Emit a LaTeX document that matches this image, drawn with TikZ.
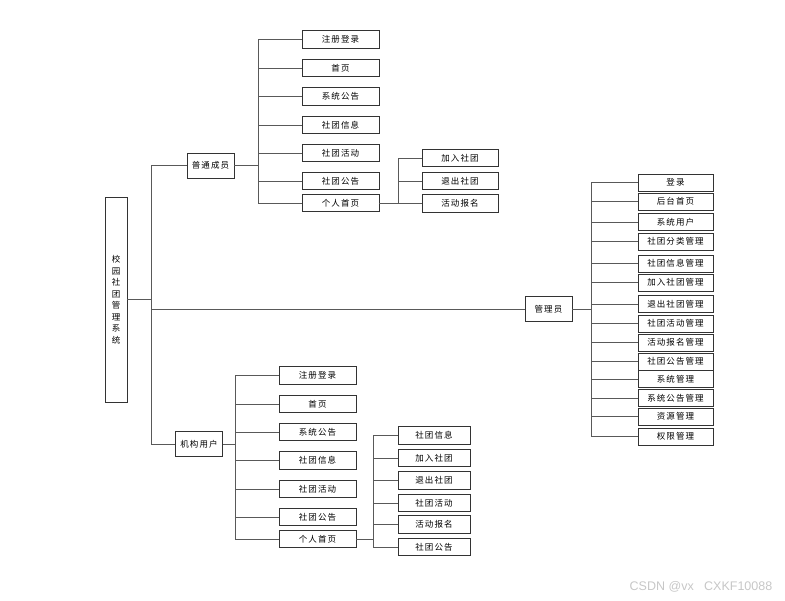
\documentclass[tikz,border=0pt]{standalone}
\usepackage{fontspec}
\setmainfont{Noto Sans CJK SC}[LetterSpace=12]
\newfontfamily\wmfont{Liberation Sans}
\begin{document}
\begin{tikzpicture}[x=1pt,y=-1pt,
  box/.style={draw=black!80,line width=0.8pt,fill=white,inner sep=0pt,font=\fontsize{8.5}{10}\selectfont},
  leaf/.style={box,minimum width=77pt,minimum height=17.5pt},
  aleaf/.style={box,minimum width=75pt,minimum height=17pt},
  sub/.style={box,minimum width=76pt,minimum height=17.5pt},
  grp/.style={box,minimum width=47pt,minimum height=25pt},
  conn/.style={draw=black!65,line width=0.8pt}]
\useasboundingbox (0,0) rectangle (785,601);
% root
\node[box,minimum width=22pt,minimum height=205pt,align=center,font=\fontsize{8.5}{11.5}\selectfont] (root) at (116,299.5) {校\\园\\社\\团\\管\\理\\系\\统};
% groups
\node[grp] (pa) at (210.5,165.5) {普通成员};
\node[grp] (pm) at (548.5,309) {管理员};
\node[grp] (pb) at (199,444) {机构用户};
\foreach \g in {pa,pm,pb} \draw[conn] (root.east) -- ++(24,0) |- (\g.west);
% group A
\node[leaf] (a1) at (340.5,39.5) {注册登录};
\node[leaf] (a2) at (340.5,68) {首页};
\node[leaf] (a3) at (340.5,96.5) {系统公告};
\node[leaf] (a4) at (340.5,125) {社团信息};
\node[leaf] (a5) at (340.5,153) {社团活动};
\node[leaf] (a6) at (340.5,181) {社团公告};
\node[leaf] (a7) at (340.5,203) {个人首页};
\foreach \c in {a1,a2,a3,a4,a5,a6,a7} \draw[conn] (pa.east) -- ++(23.5,0) |- (\c.west);
\node[sub] (a71) at (460,158) {加入社团};
\node[sub] (a72) at (460,181) {退出社团};
\node[sub] (a73) at (460,203.5) {活动报名};
\foreach \c in {a71,a72,a73} \draw[conn] (a7.east) -- ++(19,0) |- (\c.west);
% admin
\node[aleaf] (m1) at (675.5,182.5) {登录};
\node[aleaf] (m2) at (675.5,201.5) {后台首页};
\node[aleaf] (m3) at (675.5,222) {系统用户};
\node[aleaf] (m4) at (675.5,241.5) {社团分类管理};
\node[aleaf] (m5) at (675.5,263.5) {社团信息管理};
\node[aleaf] (m6) at (675.5,282.5) {加入社团管理};
\node[aleaf] (m7) at (675.5,304) {退出社团管理};
\node[aleaf] (m8) at (675.5,323.5) {社团活动管理};
\node[aleaf] (m9) at (675.5,342.5) {活动报名管理};
\node[aleaf] (m10) at (675.5,361.5) {社团公告管理};
\node[aleaf] (m11) at (675.5,379) {系统管理};
\node[aleaf] (m12) at (675.5,398) {系统公告管理};
\node[aleaf] (m13) at (675.5,416.5) {资源管理};
\node[aleaf] (m14) at (675.5,436.5) {权限管理};
\foreach \c in {m1,m2,m3,m4,m5,m6,m7,m8,m9,m10,m11,m12,m13,m14} \draw[conn] (pm.east) -- ++(19,0) |- (\c.west);
% group B
\node[leaf] (b1) at (317.5,375.5) {注册登录};
\node[leaf] (b2) at (317.5,404) {首页};
\node[leaf] (b3) at (317.5,432) {系统公告};
\node[leaf] (b4) at (317.5,460.5) {社团信息};
\node[leaf] (b5) at (317.5,489) {社团活动};
\node[leaf] (b6) at (317.5,517) {社团公告};
\node[leaf] (b7) at (317.5,539) {个人首页};
\foreach \c in {b1,b2,b3,b4,b5,b6,b7} \draw[conn] (pb.east) -- ++(12,0) |- (\c.west);
\node[box,minimum width=72pt,minimum height=17.5pt] (b71) at (434,435.5) {社团信息};
\node[box,minimum width=72pt,minimum height=17.5pt] (b72) at (434,458) {加入社团};
\node[box,minimum width=72pt,minimum height=17.5pt] (b73) at (434,480.5) {退出社团};
\node[box,minimum width=72pt,minimum height=17.5pt] (b74) at (434,503) {社团活动};
\node[box,minimum width=72pt,minimum height=17.5pt] (b75) at (434,524.5) {活动报名};
\node[box,minimum width=72pt,minimum height=17.5pt] (b76) at (434,547) {社团公告};
\foreach \c in {b71,b72,b73,b74,b75,b76} \draw[conn] (b7.east) -- ++(17,0) |- (\c.west);
% watermark
\node[text=black!22,font=\wmfont\fontsize{12.5}{14}\selectfont,inner sep=0pt] (wm) at (701,587) {CSDN @vx\ \ \ CXKF10088};
\end{tikzpicture}
\end{document}
